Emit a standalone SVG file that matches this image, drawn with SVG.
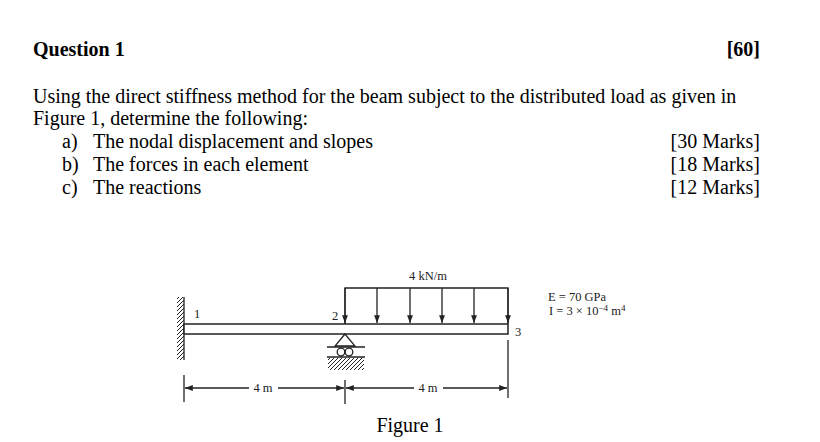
<svg xmlns="http://www.w3.org/2000/svg" width="820" height="442" viewBox="0 0 820 442">
<defs>
<style>
.t{font-family:"Liberation Serif",serif;font-size:20px;fill:#000}
.f{font-family:"Liberation Serif",serif;font-size:12.5px;fill:#222}
.l{stroke:#222;stroke-width:1.3;fill:none}
</style>
<marker id="a" viewBox="0 0 8 8" refX="8" refY="4" markerWidth="6" markerHeight="6" orient="auto"><path d="M0,1 L8,4 L0,7 z" fill="#222"/></marker>
<pattern id="h" width="4" height="4" patternUnits="userSpaceOnUse"><path d="M0,4 L4,0" stroke="#222" stroke-width="1"/></pattern>
</defs>
<rect width="820" height="442" fill="#fff"/>
<g id="text">
<text class="t" x="33" y="56" font-weight="bold">Question 1</text>
<text class="t" x="760" y="56" font-weight="bold" text-anchor="end">[60]</text>
<text class="t" x="33" y="103">Using the direct stiffness method for the beam subject to the distributed load as given in</text>
<text class="t" x="33" y="125">Figure 1, determine the following:</text>
<text class="t" x="62" y="148">a)</text><text class="t" x="93" y="148">The nodal displacement and slopes</text>
<text class="t" x="62" y="171">b)</text><text class="t" x="93" y="171">The forces in each element</text>
<text class="t" x="62" y="194">c)</text><text class="t" x="93" y="194">The reactions</text>
<text class="t" x="760" y="148" text-anchor="end">[30 Marks]</text>
<text class="t" x="760" y="171" text-anchor="end">[18 Marks]</text>
<text class="t" x="760" y="194" text-anchor="end">[12 Marks]</text>
<text class="t" x="410" y="432" text-anchor="middle">Figure 1</text>
</g>
<g id="wall"><rect x="177" y="297" width="7" height="63" fill="url(#h)"/><line class="l" x1="184" y1="297" x2="184" y2="360"/></g>
<g id="beam"><rect x="184" y="324" width="324" height="10" fill="#fff" stroke="#222" stroke-width="1.5"/></g>
<g id="load">
<polyline class="l" points="345,324 345,288 508,288 508,324"/>
<g class="l" marker-end="url(#a)">
<line x1="345" y1="288" x2="345" y2="323"/><line x1="377" y1="288" x2="377" y2="323"/><line x1="410" y1="288" x2="410" y2="323"/><line x1="442" y1="288" x2="442" y2="323"/><line x1="474" y1="288" x2="474" y2="323"/><line x1="508" y1="288" x2="508" y2="323"/>
</g>
<text class="f" x="428" y="280" text-anchor="middle">4 kN/m</text>
</g>
<g id="support">
<path class="l" d="M345,334 L335,346 L355,346 Z"/>
<line class="l" x1="327" y1="347" x2="365" y2="347"/>
<circle class="l" cx="341" cy="352" r="3.8"/><circle class="l" cx="349" cy="352" r="3.8"/>
<line class="l" x1="327" y1="357" x2="365" y2="357"/>
<rect x="328" y="358" width="36" height="12" fill="url(#h)"/>
</g>
<g id="labels" class="f">
<text x="194" y="318">1</text><text x="332" y="320">2</text><text x="515" y="336">3</text>
<text x="548" y="301">E  =  70 GPa</text>
<text x="549" y="315">I  =  3  ×  10<tspan dy="-4" font-size="9">−4</tspan><tspan dy="4"> m</tspan><tspan dy="-4" font-size="9">4</tspan></text>
</g>
<g id="connectors">
<line class="l" x1="184" y1="375" x2="184" y2="402"/>
<line class="l" x1="345" y1="380" x2="345" y2="404"/>
<line class="l" x1="508" y1="340" x2="508" y2="398"/>
<line class="l" x1="249" y1="388" x2="185" y2="388" marker-end="url(#a)"/>
<line class="l" x1="278" y1="388" x2="344" y2="388" marker-end="url(#a)"/>
<line class="l" x1="414" y1="388" x2="346" y2="388" marker-end="url(#a)"/>
<line class="l" x1="443" y1="388" x2="507" y2="388" marker-end="url(#a)"/>
<text class="f" x="263" y="392" text-anchor="middle">4 m</text>
<text class="f" x="428" y="392" text-anchor="middle">4 m</text>
</g>
</svg>
